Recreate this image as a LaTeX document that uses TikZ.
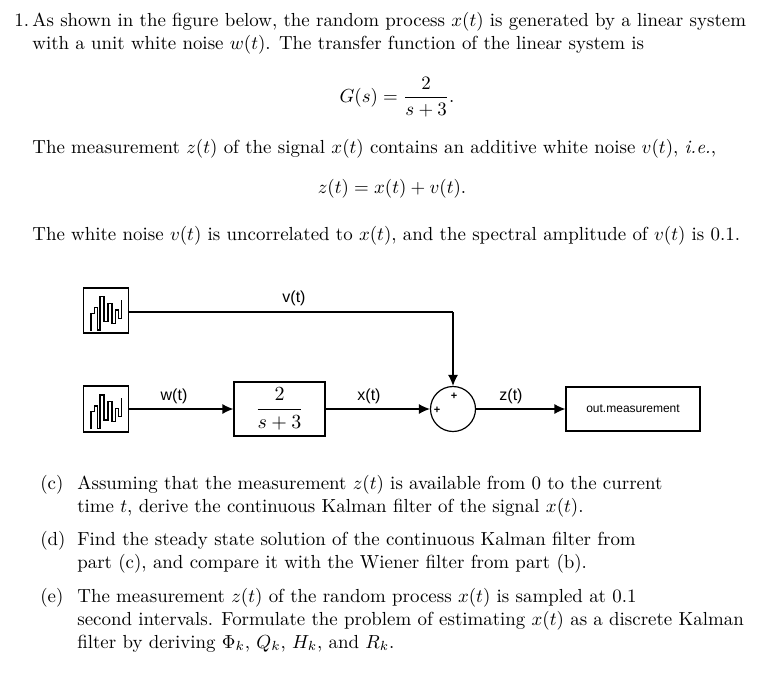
\documentclass[tikz,border=0pt]{standalone}
\usepackage{fontspec}
\usetikzlibrary{arrows.meta,calc}
\newfontfamily\dsans{Liberation Sans}
\begin{document}
\begin{tikzpicture}[x=1pt,y=-1pt,
  txt/.style={anchor=base west,inner sep=0pt,font=\fontsize{10}{12}\selectfont,scale=1.89,transform shape},
  lbl/.style={font=\dsans\fontsize{16}{18}\selectfont,inner sep=0pt},
  blk/.style={draw,line width=1.2pt},
  sig/.style={line width=1.2pt,-{Latex[length=11pt,width=10pt]}},
  wire/.style={line width=1.2pt},
  noise/.style={line width=1.4pt,line join=miter}]
\useasboundingbox (0,0) rectangle (779,680);
\node[txt] (l1a) at (14,26) {1.};
\node[txt] (l1) at (32,26) {As shown in the figure below, the random process $x(t)$ is generated by a linear system};
\node[txt] (l2) at (32,49) {with a unit white noise $w(t)$. The transfer function of the linear system is};
\node[txt,anchor=center] (g) at (397,97) {$\displaystyle G(s)=\frac{2}{s+3}.$};
\node[txt] (l3) at (32,153) {The measurement $z(t)$ of the signal $x(t)$ contains an additive white noise $v(t)$, \emph{i.e.},};
\node[txt,anchor=base] (l4) at (392,193) {$z(t)=x(t)+v(t).$};
\node[txt] (l5) at (32,240) {The white noise $v(t)$ is uncorrelated to $x(t)$, and the spectral amplitude of $v(t)$ is 0.1.};

% diagram
\node[blk,minimum width=45pt,minimum height=45pt,inner sep=0pt] (sv) at (106,310.5) {};
\node[blk,minimum width=45pt,minimum height=46pt,inner sep=0pt] (sw) at (106,409) {};
\foreach \b in {sv,sw}{
 \draw[noise] ($(\b.center)+(-15,20)$) -- ++(0,-17.3) -- ++(3.3,0) -- ++(0,-5.7) -- ++(3,0) -- ++(0,22.3) -- ++(2.7,0) -- ++(0,-33.3) -- ++(4,0) -- ++(0,25) -- ++(4,0) -- ++(0,-18.3) -- ++(4,0) -- ++(0,20) -- ++(3.3,0) -- ++(0,-13.4) -- ++(3.4,0) -- ++(0,8.4) -- ++(2.6,0) -- ++(0,-18.4);
}
\node[blk,minimum width=91pt,minimum height=54pt,inner sep=0pt,font=\fontsize{10}{12}\selectfont] (g1) at (279.5,409) {\scalebox{2.0}{$\displaystyle\frac{2}{s+3}$}};
\node[draw,circle,line width=1.2pt,minimum size=45pt,inner sep=0pt] (sum) at (453,409) {};
\node[lbl,font=\dsans\fontsize{11}{11}\selectfont\bfseries] (p1) at (454,396) {+};
\node[lbl,font=\dsans\fontsize{11}{11}\selectfont\bfseries] (p2) at (437,410) {+};
\node[blk,minimum width=134pt,minimum height=44pt,inner sep=0pt,font=\dsans\fontsize{12}{14}\selectfont] (out) at (633,409) {out.measurement};
\coordinate (c) at (453,312);
\draw[wire] (sv.east |- c) -- (c);
\draw[sig] (c) -- (sum.north);
\draw[sig] (sw) -- (g1);
\draw[sig] (g1) -- (sum);
\draw[sig] (sum) -- (out);
\node[lbl] (vl) at (294,298) {v(t)};
\node[lbl] (wl) at (174,396) {w(t)};
\node[lbl] (xl) at (369,396) {x(t)};
\node[lbl] (zl) at (511,396) {z(t)};

\node[txt] (c1) at (40,489) {(c)};
\node[txt] (c1t) at (77,489) {Assuming that the measurement $z(t)$ is available from 0 to the current};
\node[txt] (c2t) at (77,512) {time $t$, derive the continuous Kalman filter of the signal $x(t)$.};
\node[txt] (d1) at (40,545) {(d)};
\node[txt] (d1t) at (77,545) {Find the steady state solution of the continuous Kalman filter from};
\node[txt] (d2t) at (77,568) {part (c), and compare it with the Wiener filter from part (b).};
\node[txt] (e1) at (40,602) {(e)};
\node[txt] (e1t) at (77,602) {The measurement $z(t)$ of the random process $x(t)$ is sampled at 0.1};
\node[txt] (e2t) at (77,625) {second intervals. Formulate the problem of estimating $x(t)$ as a discrete Kalman};
\node[txt] (e3t) at (77,648) {filter by deriving $\Phi_k$, $Q_k$, $H_k$, and $R_k$.};
\end{tikzpicture}
\end{document}
